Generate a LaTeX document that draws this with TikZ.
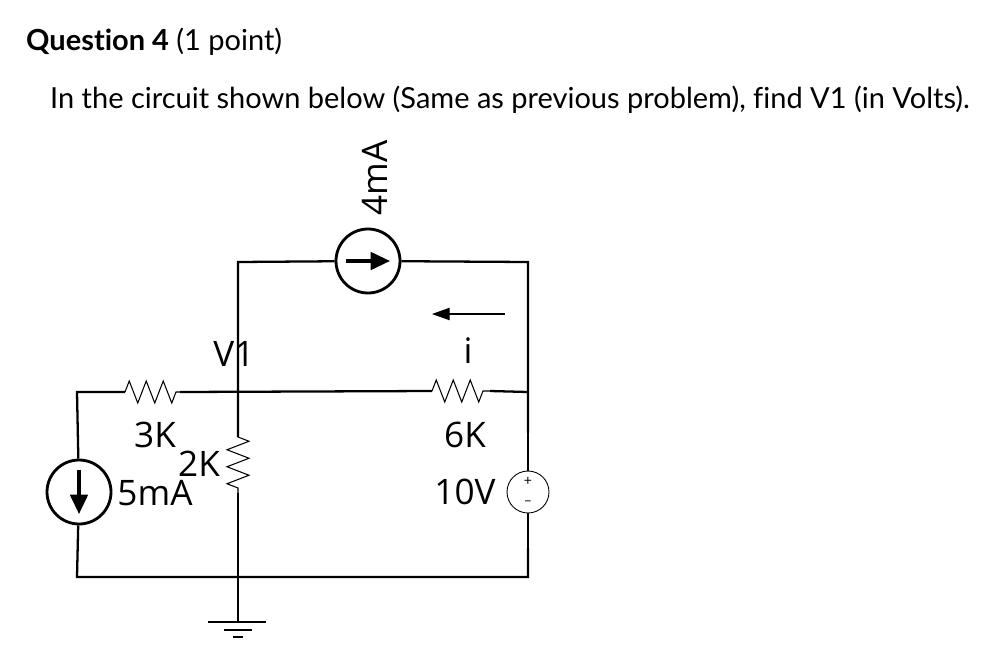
\documentclass[tikz,border=0pt]{standalone}
\usepackage{fontspec}
\setmainfont{Lato}[Ligatures={NoCommon}]
\newfontfamily\circfont{Open Sans}
\usetikzlibrary{arrows.meta,calc,decorations.pathmorphing}

\tikzset{
  wire/.style={line width=1.3pt},
  thinwire/.style={line width=0.6pt},
  resistor/.style={line width=0.6pt,decorate,decoration={zigzag,segment length=3.4mm,amplitude=2.2mm}},
  source/.style={circle,draw,line width=1.6pt,minimum size=1.28cm,inner sep=0pt},
  vsource/.style={circle,draw,line width=0.5pt,minimum size=0.84cm,inner sep=0pt},
  lab/.style={font=\circfont\fontsize{20}{20}\selectfont,inner sep=0pt}
}

\begin{document}
\begin{tikzpicture}[x=0.02cm,y=-0.02cm]
\useasboundingbox (0,0) rectangle (981,653);
\node[anchor=west,font=\fontsize{16.5}{16}\selectfont] (title) at (20,42) {\textbf{Question 4} (1 point)};
\node[anchor=west,font=\fontsize{16.5}{16}\selectfont] (question) at (44,100) {In the circuit shown below (Same as previous problem), find V1 (in Volts).};

% corners
\coordinate (tl) at (77,392);
\coordinate (bl) at (77,577);
\coordinate (mt) at (238,262);
\coordinate (mb) at (238,577);
\coordinate (rt) at (528,262);
\coordinate (rm) at (528,392);
\coordinate (rb) at (528,577);
\coordinate (gnd) at (238,622);

% sources
\node[source] (isa) at (79,492) {};
\node[source] (isb) at (368,261) {};
\node[vsource] (vs) at (528,492) {};
\draw[-{Triangle[length=11pt,width=10pt]},line width=1.8pt] ($(isa)+(0,-22)$) -- ($(isa)+(0,22)$);
\draw[-{Triangle[length=11pt,width=10pt]},line width=1.8pt] ($(isb)+(-22,0)$) -- ($(isb)+(22,0)$);
\node[font=\fontsize{8}{8}\selectfont] at ($(vs)+(0,-11)$) {+};
\node[font=\fontsize{8}{8}\selectfont] at ($(vs)+(0,11)$) {--};

% wires
\draw[wire] (isa) -- (tl) -- (125,392);
\draw[resistor] (125,392) -- (180,392);
\draw[wire] (180,392) -- (432,391);
\draw[resistor] (432,391) -- (490,391);
\draw[wire] (490,391) -- (rm);
\draw[wire] (isa) -- (bl) -- (rb) -- (528,548);
\draw[thinwire] (528,548) -- (vs.south);
\draw[thinwire] (528,433) -- (vs.north);
\draw[wire] (528,433) -- (rm) -- (rt) -- (isb) -- (mt) -- (238,437);
\draw[resistor] (238,437) -- (238,493);
\draw[wire] (238,493) -- (mb);
\draw[thinwire] (mb) -- (gnd);
\draw[thinwire] (208,622) -- (266,622);
\draw[thinwire] (224,630) -- (252,630);
\draw[thinwire] (233,637) -- (243,637);

% current i
\coordinate (ia) at (505,314);
\coordinate (ib) at (432,314);
\draw[thinwire,-{Triangle[length=10pt,width=7pt]}] (ia) -- (ib);

% labels
\node[lab] (lv) at (234,354) {V1};
\node[lab] (li) at (468,351) {i};
\node[lab] (l3) at (155,435) {3K};
\node[lab] (l2) at (199,464) {2K};
\node[lab] (l5) at (155,493) {5mA};
\node[lab] (l6) at (465,435) {6K};
\node[lab] (l10) at (465,492) {10V};
\node[lab,rotate=90] (l4) at (375,178) {4mA};
\end{tikzpicture}
\end{document}
